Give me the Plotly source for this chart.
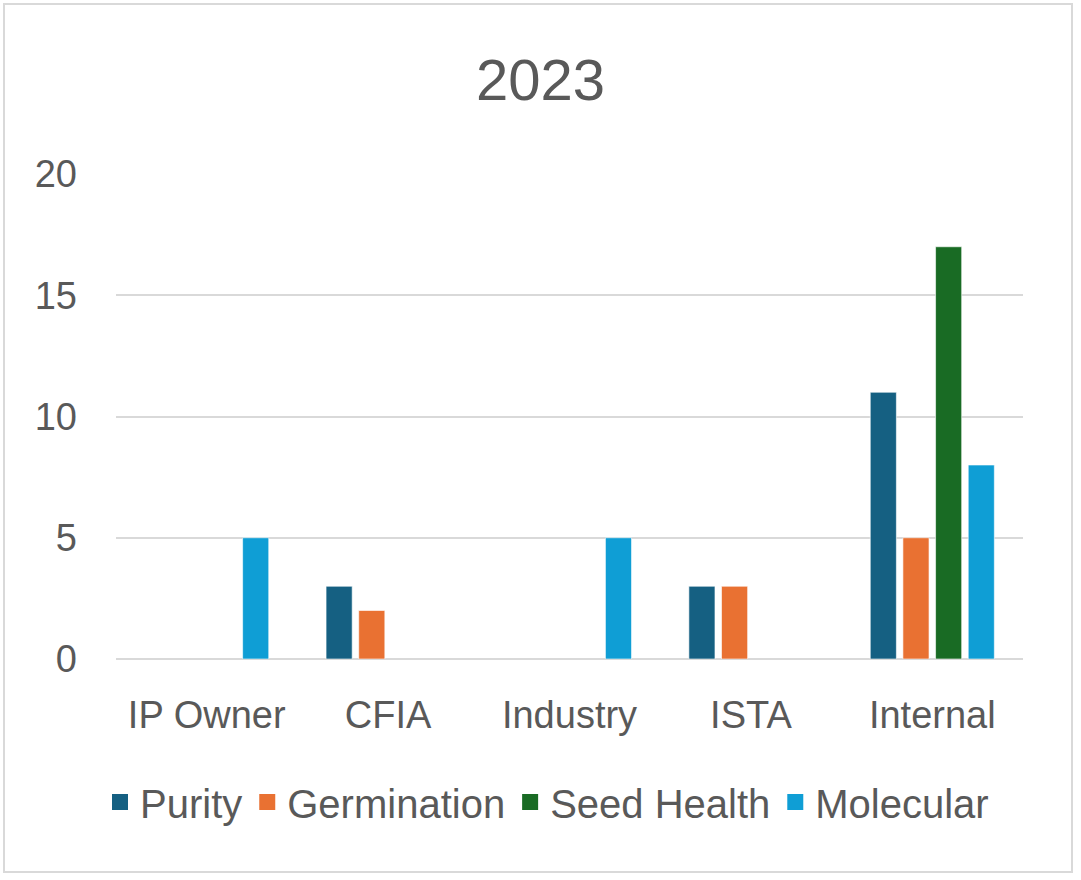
import plotly.graph_objects as go

categories = ["IP Owner", "CFIA", "Industry", "ISTA", "Internal"]
purity = [0, 3, 0, 3, 11]
germination = [0, 2, 0, 3, 5]
seed_health = [0, 0, 0, 0, 17]
molecular = [5, 0, 5, 0, 8]
series_names = ["Purity", "Germination", "Seed Health", "Molecular"]
series_values = [purity, germination, seed_health, molecular]
colors = ["#156082", "#E97132", "#196B24", "#0F9ED5"]
y_ticks = [0, 5, 10, 15, 20]

FONT = "Liberation Sans"
TXT = "#595959"
GRID = "#D9D9D9"

W, H = 1081, 880
L, R, T, B = 116, 1023, 174, 659

fig = go.Figure()
for name, vals, col in zip(series_names, series_values, colors):
    fig.add_trace(go.Bar(
        x=categories, y=[v if v else None for v in vals], name=name, showlegend=False,
        marker=dict(color=col, line=dict(color="rgba(255,255,255,0.6)", width=1)),
    ))
for name, col in zip(series_names, colors):
    fig.add_trace(go.Scatter(
        x=[None], y=[None], name=name, mode="markers",
        marker=dict(symbol="square", size=20, color=col),
    ))

pw, ph = R - L, B - T
def px_x(p):
    return (p - L) / pw
def px_y(p):
    return (B - p) / ph

fig.add_shape(type="rect", xref="paper", yref="paper",
              x0=px_x(4), x1=px_x(1072), y0=px_y(872), y1=px_y(4),
              line=dict(color=GRID, width=2), layer="below")

fig.update_layout(
    width=W, height=H,
    margin=dict(l=L, r=W - R, t=T, b=H - B, pad=0, autoexpand=False),
    paper_bgcolor="white", plot_bgcolor="white",
    font=dict(family=FONT, color=TXT, size=38),
    title=dict(text="2023", x=0.5, xref="container", xanchor="center",
               y=1 - 80 / H, yref="container", yanchor="middle",
               font=dict(size=58, color=TXT, family=FONT)),
    barmode="group", bargap=0.28, bargroupgap=0.2,
    legend=dict(orientation="h", x=px_x(547), xanchor="center",
                y=px_y(802), yanchor="middle", font=dict(size=40, color=TXT),
                itemsizing="trace", tracegroupgap=0, itemwidth=30),
    xaxis=dict(showgrid=False, showline=False, zeroline=False, ticks="",
               ticklabelstandoff=30, tickfont=dict(size=38)),
    yaxis=dict(range=[0, 20], tickvals=y_ticks, showgrid=True, gridcolor=GRID,
               gridwidth=2, zeroline=True, zerolinecolor=GRID, zerolinewidth=2,
               showline=False, ticks="", ticklabelstandoff=38,
               tickfont=dict(size=38)),
)

fig.write_html("out.html", config={"displayModeBar": False},
               post_script="document.body.style.margin='0';document.body.style.overflow='hidden';")
